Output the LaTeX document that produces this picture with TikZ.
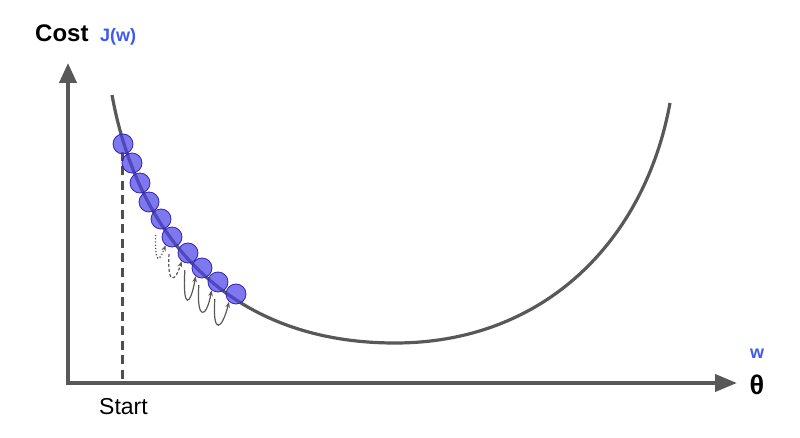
\documentclass[tikz,border=0pt]{standalone}
\usepackage{fontspec}
\setmainfont{Liberation Sans}
\usetikzlibrary{arrows.meta}
\definecolor{axisgray}{RGB}{88,88,88}
\definecolor{labelblue}{RGB}{62,88,245}
\definecolor{ballfill}{RGB}{78,66,232}
\definecolor{balledge}{RGB}{48,38,185}
\tikzset{
  axisline/.style={draw=axisgray, line width=4pt, line join=miter, {Triangle[length=20pt,width=17pt]}-{Triangle[length=22pt,width=17pt]}},
  costcurve/.style={draw=axisgray, line width=3.2pt},
  startline/.style={draw=axisgray!90!black, line width=3pt, dash pattern=on 9pt off 5.5pt},
  ball/.style={circle, minimum size=20pt, inner sep=0pt, fill=ballfill, fill opacity=0.72, draw=balledge, line width=0.8pt},
  hop/.style={draw=axisgray, line width=1.2pt, -{Stealth[length=6pt,width=4.5pt]}, shorten <=7pt},
  txt/.style={inner sep=0pt, anchor=base west},
}
\begin{document}
\begin{tikzpicture}[x=1pt,y=-1pt]
\useasboundingbox (0,0) rectangle (800,438);
% axes
\coordinate (ytip) at (68,63);
\coordinate (origin) at (68,383);
\coordinate (xtip) at (737,383);
\draw[axisline] (ytip) -- (origin) -- (xtip);
% start dashed line
\coordinate (startbot) at (122,383);
\coordinate (starttop) at (122,152);
\draw[startline] (starttop) -- (startbot);
% cost curve
\coordinate (ctop) at (112,95);
\coordinate (cmin) at (395,343);
\coordinate (cend) at (670,103);
\draw[costcurve] (ctop) .. controls (138,238) and (230,343) .. (cmin)
  .. controls (545,343) and (645,240) .. (cend);
% balls
\node[ball] (b1) at (123,144) {};
\node[ball] (b2) at (132,163) {};
\node[ball] (b3) at (140,183) {};
\node[ball] (b4) at (149,202) {};
\node[ball] (b5) at (161,219) {};
\node[ball] (b6) at (172,237) {};
\node[ball] (b7) at (188,253) {};
\node[ball] (b8) at (202,268) {};
\node[ball] (b9) at (218,282) {};
\node[ball] (b10) at (236,294) {};
% hops
\draw[hop, dotted, line width=1.3pt] (b5.240) .. controls +(-1,38) and +(-6,16) .. (b6.232);
\draw[hop, dash pattern=on 3pt off 2pt] (b6.255) .. controls +(-2,40) and +(-6,20) .. (b7.232);
\draw[hop] (b7.255) .. controls +(-3,48) and +(-5,30) .. (b8.232);
\draw[hop] (b8.255) .. controls +(-3,44) and +(-5,28) .. (b9.232);
\draw[hop] (b9.255) .. controls +(-3,44) and +(-7,28) .. (b10.228);
% labels
\node[txt, font=\bfseries\fontsize{24}{24}\selectfont] (cost) at (35,42) {Cost};
\node[txt, font=\bfseries\fontsize{18}{18}\selectfont, text=labelblue] (jw) at (100,42) {J(w)};
\node[txt, font=\fontsize{23}{23}\selectfont] (start) at (99,414) {Start};
\node[inner sep=0pt, anchor=base, font=\bfseries\fontsize{18}{18}\selectfont, text=labelblue] (wlab) at (757,358) {w};
\node[inner sep=0pt, anchor=base, font=\bfseries\fontsize{27}{27}\selectfont] (theta) at (757,394) {θ};
\end{tikzpicture}
\end{document}
